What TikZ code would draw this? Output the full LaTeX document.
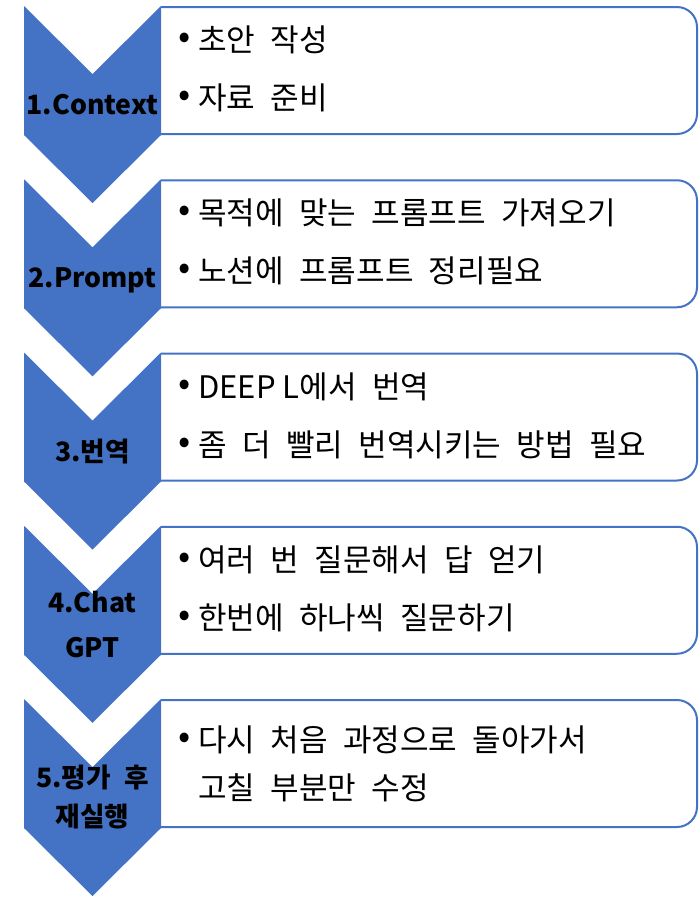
\documentclass[tikz,border=0pt]{standalone}
\usepackage{fontspec}
\newfontfamily\kr{Noto Sans CJK KR}[WordSpace=2.2]
\newfontfamily\krn{Noto Sans CJK KR}[Scale=0.999]
\definecolor{cblue}{HTML}{4472C4}
\begin{document}
\begin{tikzpicture}[x=0.75pt,y=-0.75pt,
  chev/.style={fill=cblue,draw=none},
  boxline/.style={draw=cblue,line width=1.5pt,rounded corners=15pt},
  lab/.style={font=\kr\bfseries\fontsize{20}{24}\selectfont,inner sep=0pt,text height=15pt,text depth=0.2pt},
  item/.style={font=\kr\fontsize{23.3}{28}\selectfont,anchor=west,inner sep=0pt,text height=18pt,text depth=1pt},
  bul/.style={font=\kr\fontsize{27}{30}\selectfont,inner sep=0pt}]
\useasboundingbox (0,0) rectangle (699,897);
\foreach \i in {0,...,4}{
  \pgfmathsetmacro\T{6+173.25*\i}
  \draw[boxline] (161,\T+1) -- (697,\T+1) -- (697,\T+128) -- (161,\T+128);
  \fill[chev] (24,\T) -- (92.5,\T+68) -- (161,\T) -- (161,\T+129) -- (92.5,\T+197) -- (24,\T+129) -- cycle;
}
% box 1
\node[lab] (l1) at (92.5,105) {1.Context};
\node[bul] (b1a) at (185,41) {•};
\node[item] (t1a) at (198,40) {초안 작성};
\node[bul] (b1b) at (185,99) {•};
\node[item] (t1b) at (198,98) {자료 준비};
% box 2
\node[lab] (l2) at (92.5,278) {2.Prompt};
\node[bul] (b2a) at (185,214) {•};
\node[item] (t2a) at (198,213) {목적에 맞는 프롬프트 가져오기};
\node[bul] (b2b) at (185,272) {•};
\node[item] (t2b) at (198,271) {노션에 프롬프트 정리필요};
% box 3
\node[lab] (l3) at (92.5,452) {3.번역};
\node[bul] (b3a) at (185,388) {•};
\node[item] (t3a) at (198,387) {{\krn DEEP L}에서 번역};
\node[bul] (b3b) at (185,446) {•};
\node[item] (t3b) at (198,445) {좀 더 빨리 번역시키는 방법 필요};
% box 4
\node[lab] (l4a) at (92.5,603) {4.Chat};
\node[lab] (l4b) at (92.5,648) {GPT};
\node[bul] (b4a) at (185,561) {•};
\node[item] (t4a) at (198,560) {여러 번 질문해서 답 얻기};
\node[bul] (b4b) at (185,619) {•};
\node[item] (t4b) at (198,618) {한번에 하나씩 질문하기};
% box 5
\node[lab] (l5a) at (92.5,778) {5.평가 후};
\node[lab] (l5b) at (92.5,817) {재실행};
\node[bul] (b5a) at (185,741) {•};
\node[item] (t5a) at (198,740) {다시 처음 과정으로 돌아가서};
\node[item] (t5b) at (198,788) {고칠 부분만 수정};
\end{tikzpicture}
\end{document}
